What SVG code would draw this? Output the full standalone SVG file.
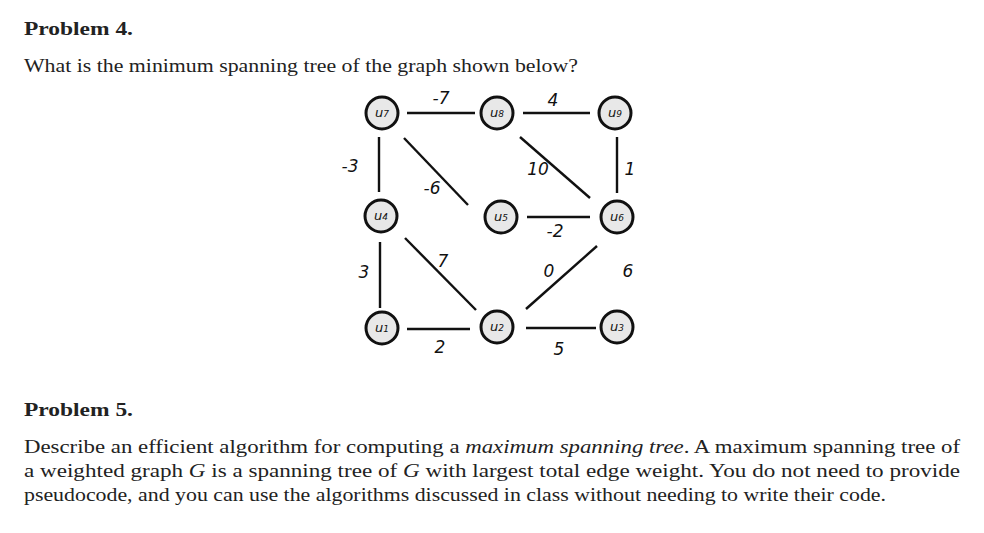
<svg xmlns="http://www.w3.org/2000/svg" width="984" height="533" viewBox="0 0 984 533">
<style>
.t{font-family:"Liberation Serif",serif;font-size:19px;fill:#222}
.b{font-weight:bold}
.n circle{fill:#e8e8e8;stroke:#111;stroke-width:3}
.n text{font-family:"DejaVu Sans",sans-serif;font-size:13px;text-anchor:middle;fill:#111;font-style:italic}
.n tspan{font-size:9px}
.e line{stroke:#111;stroke-width:2.4}
.w{font-family:"DejaVu Sans",sans-serif;font-size:17px;fill:#111;text-anchor:middle;font-style:italic}
</style>
<rect width="984" height="533" fill="#fff"/>
<text class="t b" x="24" y="35" textLength="109" lengthAdjust="spacingAndGlyphs">Problem 4.</text>
<text class="t" x="24" y="72" textLength="554" lengthAdjust="spacingAndGlyphs">What is the minimum spanning tree of the graph shown below?</text>
<g class="e">
<line x1="407" y1="113" x2="475" y2="113"/>
<line x1="523" y1="113" x2="590" y2="113"/>
<line x1="379" y1="137" x2="379" y2="192"/>
<line x1="404" y1="138" x2="468" y2="205"/>
<line x1="520" y1="137" x2="590" y2="198"/>
<line x1="617" y1="137" x2="617" y2="193"/>
<line x1="527" y1="217" x2="590" y2="217"/>
<line x1="380" y1="242" x2="380" y2="308"/>
<line x1="405" y1="238" x2="476" y2="310"/>
<line x1="597" y1="246" x2="526" y2="309"/>
<line x1="407" y1="329" x2="470" y2="329"/>
<line x1="526" y1="328" x2="596" y2="328"/>
</g>
<g class="w">
<text x="441" y="104">-7</text><text x="553" y="106">4</text>
<text x="350" y="172">-3</text><text x="432" y="194">-6</text>
<text x="538" y="175">10</text><text x="630" y="175">1</text>
<text x="555" y="237">-2</text><text x="443" y="267">7</text>
<text x="549" y="277">0</text><text x="364" y="278">3</text>
<text x="628" y="277">6</text><text x="440" y="353">2</text>
<text x="559" y="355">5</text>
</g>
<g id="u7" class="n"><circle cx="382" cy="113" r="16"/><text x="382" y="117">u<tspan>7</tspan></text></g>
<g id="u8" class="n"><circle cx="497" cy="113" r="16"/><text x="497" y="117">u<tspan>8</tspan></text></g>
<g id="u9" class="n"><circle cx="615" cy="113" r="16"/><text x="615" y="117">u<tspan>9</tspan></text></g>
<g id="u4" class="n"><circle cx="381" cy="216" r="16"/><text x="381" y="220">u<tspan>4</tspan></text></g>
<g id="u5" class="n"><circle cx="501" cy="217" r="16"/><text x="501" y="221">u<tspan>5</tspan></text></g>
<g id="u6" class="n"><circle cx="617" cy="217" r="16"/><text x="617" y="221">u<tspan>6</tspan></text></g>
<g id="u1" class="n"><circle cx="382" cy="328" r="16"/><text x="382" y="332">u<tspan>1</tspan></text></g>
<g id="u2" class="n"><circle cx="497" cy="327" r="16"/><text x="497" y="331">u<tspan>2</tspan></text></g>
<g id="u3" class="n"><circle cx="617" cy="327" r="16"/><text x="617" y="331">u<tspan>3</tspan></text></g>
<text class="t b" x="24" y="416" textLength="109" lengthAdjust="spacingAndGlyphs">Problem 5.</text>
<text class="t" x="24" y="453" textLength="936" lengthAdjust="spacingAndGlyphs">Describe an efficient algorithm for computing a <tspan font-style="italic">maximum spanning tree</tspan>.  A maximum spanning tree of</text>
<text class="t" x="24" y="477" textLength="936" lengthAdjust="spacingAndGlyphs">a weighted graph <tspan font-style="italic">G</tspan> is a spanning tree of <tspan font-style="italic">G</tspan> with largest total edge weight.  You do not need to provide</text>
<text class="t" x="24" y="501" textLength="862" lengthAdjust="spacingAndGlyphs">pseudocode, and you can use the algorithms discussed in class without needing to write their code.</text>
</svg>
